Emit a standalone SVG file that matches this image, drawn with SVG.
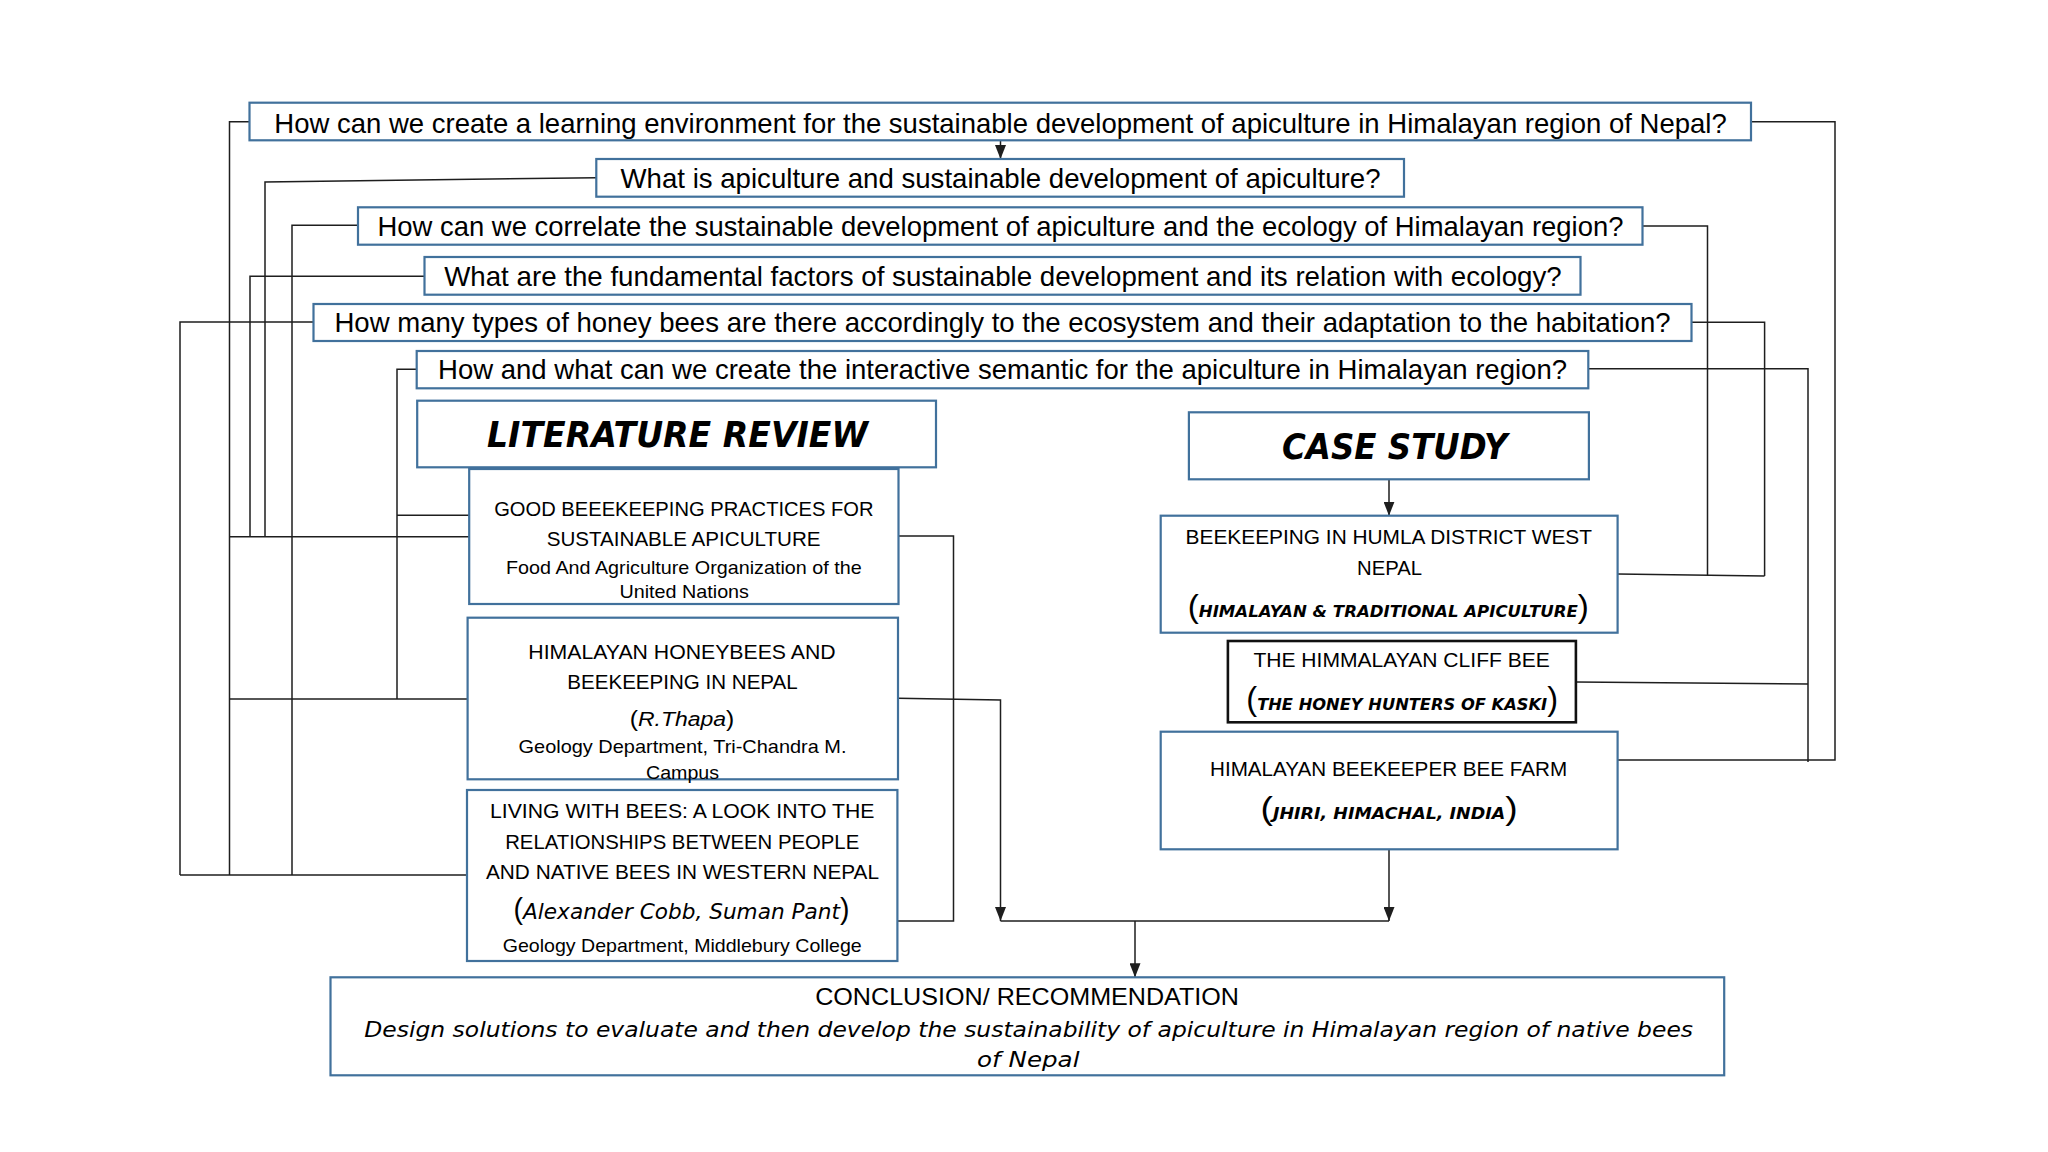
<svg xmlns="http://www.w3.org/2000/svg" width="2048" height="1152" viewBox="0 0 2048 1152">
<defs>
<style>
.box{fill:#fff;stroke:#41719C;stroke-width:2.2}
.boxk{fill:#fff;stroke:#111;stroke-width:2.6}
.conn{fill:none;stroke:#1e1e1e;stroke-width:1.5}
text{font-family:"Liberation Sans",Arial,sans-serif;fill:#000}
.q{font-size:28px}
.t{font-size:21px}
.s{font-size:19px}
.c{font-family:"DejaVu Sans",sans-serif;font-style:oblique}
.hd{font-family:"DejaVu Sans",sans-serif;font-style:oblique;font-weight:bold;font-size:36px}
.it{font-style:italic}
</style>
<marker id="arr" markerUnits="userSpaceOnUse" viewBox="0 0 14 11" markerWidth="14" markerHeight="11" refX="14" refY="5.5" orient="auto">
<path d="M0,0 L14,5.5 L0,11 z" fill="#1e1e1e"/>
</marker>
</defs>
<rect width="2048" height="1152" fill="#fff"/>

<g id="connectors">
<path class="conn" d="M249.5,121.7 H229.5 V875"/>
<path class="conn" d="M596.3,177.7 L265,182 V536.7"/>
<path class="conn" d="M358,225.3 H292 V875"/>
<path class="conn" d="M424.5,276.3 H250 V536.7"/>
<path class="conn" d="M313.5,322 H180 V875"/>
<path class="conn" d="M416.7,369.3 H397 V699"/>
<path class="conn" d="M397,515.3 H469.2"/>
<path class="conn" d="M229.5,536.7 H469.2"/>
<path class="conn" d="M229.5,699 H467.6"/>
<path class="conn" d="M180,875 H467"/>
<path class="conn" d="M898.5,536 H953.5 V921 H897.4"/>
<path class="conn" d="M898,698.3 L1000.5,700 V921" marker-end="url(#arr)"/>
<path class="conn" d="M1389,849.3 V921" marker-end="url(#arr)"/>
<path class="conn" d="M1000.5,921 H1389"/>
<path class="conn" d="M1135,921 V977.3" marker-end="url(#arr)"/>
<path class="conn" d="M1751,121.7 H1835 V760 H1617.6"/>
<path class="conn" d="M1642.5,226 H1707.5 V575"/>
<path class="conn" d="M1691.5,322.3 H1764.6 V576"/>
<path class="conn" d="M1617.6,574 L1764.6,576"/>
<path class="conn" d="M1588.3,368.7 H1808 V762"/>
<path class="conn" d="M1575.9,682 L1808,684"/>
<path class="conn" d="M1000.5,140.3 V159" marker-end="url(#arr)"/>
<path class="conn" d="M1389,479.3 V515.7" marker-end="url(#arr)"/>
</g>

<g id="q1">
<rect class="box" x="249.5" y="102.7" width="1501.5" height="37.6"/>
<text class="q" x="274.3" y="132.5" textLength="1452.4" lengthAdjust="spacingAndGlyphs">How can we create a learning environment for the sustainable development of apiculture in Himalayan region of Nepal?</text>
</g>
<g id="q2">
<rect class="box" x="596.3" y="159" width="807.7" height="37.7"/>
<text class="q" x="620.5" y="188.3" textLength="760" lengthAdjust="spacingAndGlyphs">What is apiculture and sustainable development of apiculture?</text>
</g>
<g id="q3">
<rect class="box" x="358" y="207.3" width="1284.5" height="37.4"/>
<text class="q" x="377.5" y="236" textLength="1246" lengthAdjust="spacingAndGlyphs">How can we correlate the sustainable development of apiculture and the ecology of Himalayan region?</text>
</g>
<g id="q4">
<rect class="box" x="424.5" y="257" width="1156" height="37.7"/>
<text class="q" x="444.2" y="285.7" textLength="1117.5" lengthAdjust="spacingAndGlyphs">What are the fundamental factors of sustainable development and its relation with ecology?</text>
</g>
<g id="q5">
<rect class="box" x="313.5" y="304" width="1378" height="37"/>
<text class="q" x="334.4" y="332.3" textLength="1336.2" lengthAdjust="spacingAndGlyphs">How many types of honey bees are there accordingly to the ecosystem and their adaptation to the habitation?</text>
</g>
<g id="q6">
<rect class="box" x="416.7" y="351" width="1171.6" height="37.3"/>
<text class="q" x="438" y="379" textLength="1129" lengthAdjust="spacingAndGlyphs">How and what can we create the interactive semantic for the apiculture in Himalayan region?</text>
</g>

<g id="literature-review">
<rect class="box" x="417.2" y="400.7" width="518.8" height="66.6"/>
<text class="hd" x="487" y="446.7" textLength="381" lengthAdjust="spacingAndGlyphs">LITERATURE REVIEW</text>
</g>
<g id="good-practices">
<rect class="box" x="469.2" y="469" width="429.3" height="135"/>
<text class="t" x="494.2" y="516" textLength="379.4" lengthAdjust="spacingAndGlyphs">GOOD BEEEKEEPING PRACTICES FOR</text>
<text class="t" x="546.7" y="546" textLength="273.8" lengthAdjust="spacingAndGlyphs">SUSTAINABLE APICULTURE</text>
<text class="s" x="506" y="574" textLength="355.7" lengthAdjust="spacingAndGlyphs">Food And Agriculture Organization of the</text>
<text class="s" x="619.4" y="598.3" textLength="129.6" lengthAdjust="spacingAndGlyphs">United Nations</text>
</g>
<g id="himalayan-honeybees">
<rect class="box" x="467.6" y="617.7" width="430.4" height="161.6"/>
<text class="t" x="528.3" y="659.3" textLength="307.3" lengthAdjust="spacingAndGlyphs">HIMALAYAN HONEYBEES AND</text>
<text class="t" x="567.3" y="688.5" textLength="230.4" lengthAdjust="spacingAndGlyphs">BEEKEEPING IN NEPAL</text>
<text x="629.7" y="725.5" font-size="21" textLength="104.6" lengthAdjust="spacingAndGlyphs"><tspan font-size="22">(</tspan><tspan class="it" font-size="20.5">R.Thapa</tspan><tspan font-size="22">)</tspan></text>
<text class="s" x="518.6" y="752.7" textLength="327.9" lengthAdjust="spacingAndGlyphs">Geology Department, Tri-Chandra M.</text>
<text class="s" x="646" y="779.3" textLength="73" lengthAdjust="spacingAndGlyphs">Campus</text>
</g>
<g id="living-with-bees">
<rect class="box" x="467" y="790" width="430.4" height="171"/>
<text class="t" x="490" y="818.3" textLength="384.5" lengthAdjust="spacingAndGlyphs">LIVING WITH BEES: A LOOK INTO THE</text>
<text class="t" x="505.2" y="848.7" textLength="354" lengthAdjust="spacingAndGlyphs">RELATIONSHIPS BETWEEN PEOPLE</text>
<text class="t" x="486" y="879" textLength="393" lengthAdjust="spacingAndGlyphs">AND NATIVE BEES IN WESTERN NEPAL</text>
<text x="513.5" y="919" font-size="22" textLength="336" lengthAdjust="spacingAndGlyphs"><tspan font-size="29">(</tspan><tspan class="c" font-size="22">Alexander Cobb, Suman Pant</tspan><tspan font-size="29">)</tspan></text>
<text class="s" x="502.7" y="952" textLength="359" lengthAdjust="spacingAndGlyphs">Geology Department, Middlebury College</text>
</g>

<g id="case-study">
<rect class="box" x="1188.9" y="412.3" width="400" height="67"/>
<text class="hd" x="1282" y="459" textLength="225.6" lengthAdjust="spacingAndGlyphs">CASE STUDY</text>
</g>
<g id="humla">
<rect class="box" x="1160.7" y="515.7" width="456.9" height="117"/>
<text class="t" x="1185.6" y="544.3" textLength="406.4" lengthAdjust="spacingAndGlyphs">BEEKEEPING IN HUMLA DISTRICT WEST</text>
<text class="t" x="1357" y="575" textLength="65" lengthAdjust="spacingAndGlyphs">NEPAL</text>
<text x="1187.8" y="617" font-size="16" textLength="401" lengthAdjust="spacingAndGlyphs"><tspan font-size="32">(</tspan><tspan class="c" font-size="16" font-weight="bold">HIMALAYAN &amp; TRADITIONAL APICULTURE</tspan><tspan font-size="32">)</tspan></text>
</g>
<g id="cliff-bee">
<rect class="boxk" x="1227.9" y="641" width="348" height="81.3"/>
<text class="t" x="1253.4" y="667.3" textLength="296.5" lengthAdjust="spacingAndGlyphs">THE HIMMALAYAN CLIFF BEE</text>
<text x="1246.3" y="709.5" font-size="16.5" textLength="311.7" lengthAdjust="spacingAndGlyphs"><tspan font-size="33">(</tspan><tspan class="c" font-size="16.5" font-weight="bold">THE HONEY HUNTERS OF KASKI</tspan><tspan font-size="33">)</tspan></text>
</g>
<g id="bee-farm">
<rect class="box" x="1160.7" y="731.7" width="456.9" height="117.6"/>
<text class="t" x="1210" y="776" textLength="357.2" lengthAdjust="spacingAndGlyphs">HIMALAYAN BEEKEEPER BEE FARM</text>
<text x="1260.6" y="819" font-size="15" textLength="257" lengthAdjust="spacingAndGlyphs"><tspan font-size="32">(</tspan><tspan class="c" font-size="15" font-weight="bold">JHIRI, HIMACHAL, INDIA</tspan><tspan font-size="32">)</tspan></text>
</g>

<g id="conclusion">
<rect class="box" x="330.5" y="977.3" width="1393.7" height="98"/>
<text x="815.2" y="1005" font-size="24" textLength="423.8" lengthAdjust="spacingAndGlyphs">CONCLUSION/ RECOMMENDATION</text>
<text class="c" x="364.3" y="1037.3" font-size="21.5" textLength="1328.7" lengthAdjust="spacingAndGlyphs">Design solutions to evaluate and then develop the sustainability of apiculture in Himalayan region of native bees</text>
<text class="c" x="977" y="1067.3" font-size="21.5" textLength="102.5" lengthAdjust="spacingAndGlyphs">of Nepal</text>
</g>
</svg>
